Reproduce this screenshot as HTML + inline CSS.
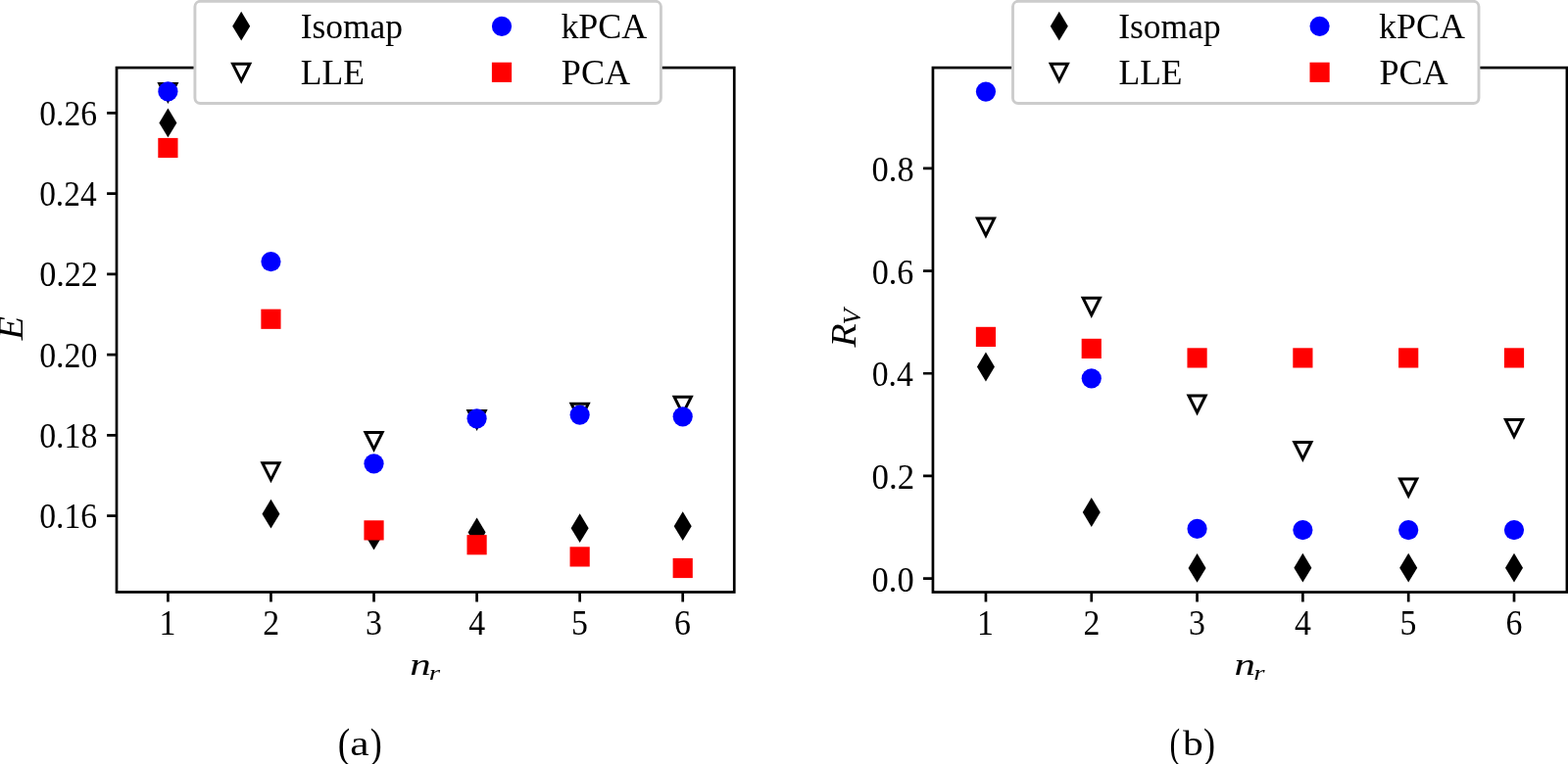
<!DOCTYPE html>
<html lang="en">
<head>
<meta charset="utf-8">
<title>Reconstruction error and volume ratio versus reduced dimension</title>
<style>
html,body{margin:0;padding:0;background:#fff;}
body{width:1600px;height:780px;overflow:hidden;}
svg{display:block;}
text{font-family:"Liberation Serif", serif;fill:#000;}
.ax rect{fill:#fff;stroke:#000;stroke-width:2.7;stroke-linejoin:miter;}
.ax path{fill:none;stroke:#000;stroke-width:2.7;}
.iso path{fill:#000;}
.lle path{fill:none;stroke:#000;stroke-width:3;stroke-linejoin:miter;stroke-miterlimit:10;}
.kpca circle{fill:#0000ff;}
.pca rect{fill:#ff0000;}
.lbox{fill:#fff;stroke:#cccccc;stroke-width:2.9;}
</style>
</head>
<body>
<svg width="1600" height="780" viewBox="0 0 1600 780">
<rect width="1600" height="780" fill="#fff"/>
<g class="ax"><rect x="119" y="69.1" width="630.25" height="535.4"/><path d="M171.4 604.5v9.9M276.46 604.5v9.9M381.52 604.5v9.9M486.58 604.5v9.9M591.64 604.5v9.9M696.7 604.5v9.9M119 115.3h-9.9M119 197.56h-9.9M119 279.82h-9.9M119 362.08h-9.9M119 444.34h-9.9M119 526.6h-9.9"/></g>
<g class="iso"><path d="M171.4 110.5L180.4 125.4L171.4 140.3L162.4 125.4Z"/><path d="M276.46 509.8L285.46 524.7L276.46 539.6L267.46 524.7Z"/><path d="M381.52 531.7L390.52 546.6L381.52 561.5L372.52 546.6Z"/><path d="M486.58 528.6L495.58 543.5L486.58 558.4L477.58 543.5Z"/><path d="M591.64 524.3L600.64 539.2L591.64 554.1L582.64 539.2Z"/><path d="M696.7 522.3L705.7 537.2L696.7 552.1L687.7 537.2Z"/></g>
<g class="lle"><path d="M162.8 85.5L180 85.5L171.4 102.7Z"/><path d="M267.86 472.8L285.06 472.8L276.46 490Z"/><path d="M372.92 441.5L390.12 441.5L381.52 458.7Z"/><path d="M477.98 419.5L495.18 419.5L486.58 436.7Z"/><path d="M583.04 412.3L600.24 412.3L591.64 429.5Z"/><path d="M688.1 405.3L705.3 405.3L696.7 422.5Z"/></g>
<g class="kpca"><circle cx="171.4" cy="93.4" r="10.1"/><circle cx="276.46" cy="267.05" r="10.1"/><circle cx="381.52" cy="473.3" r="10.1"/><circle cx="486.58" cy="427.3" r="10.1"/><circle cx="591.64" cy="423.55" r="10.1"/><circle cx="696.7" cy="425.3" r="10.1"/></g>
<g class="pca"><rect x="161.3" y="140.9" width="20.2" height="20.2"/><rect x="266.36" y="315.65" width="20.2" height="20.2"/><rect x="371.42" y="531.3" width="20.2" height="20.2"/><rect x="476.48" y="546.15" width="20.2" height="20.2"/><rect x="581.54" y="558.3" width="20.2" height="20.2"/><rect x="686.6" y="569.9" width="20.2" height="20.2"/></g>
<rect class="lbox" x="198.9" y="1.3" width="475.5" height="104.2" rx="5.5" ry="5.5"/>
<g class="iso"><path d="M246.2 11.8L255.2 26.7L246.2 41.6L237.2 26.7Z"/></g>
<g class="lle"><path d="M237.6 65.3L254.8 65.3L246.2 82.5Z"/></g>
<g class="kpca"><circle cx="512" cy="26.8" r="10.1"/></g>
<g class="pca"><rect x="501.9" y="63.7" width="20.2" height="20.2"/></g>
<text transform="translate(306.66 39) scale(0.9665 1)" font-size="36.7">Isomap</text>
<text transform="translate(306.83 86) scale(0.9685 1)" font-size="36.7">LLE</text>
<text transform="translate(572.38 39) scale(0.9801 1)" font-size="36.7">kPCA</text>
<text transform="translate(572.82 86) scale(0.9844 1)" font-size="36.7">PCA</text>
<text transform="translate(40.15 128) scale(0.9571 1)" font-size="35.2">0.26</text>
<text transform="translate(40.16 210) scale(0.9486 1)" font-size="35.2">0.24</text>
<text transform="translate(40.13 292) scale(0.9716 1)" font-size="35.2">0.22</text>
<text transform="translate(40.14 375) scale(0.9628 1)" font-size="35.2">0.20</text>
<text transform="translate(40.14 457) scale(0.9628 1)" font-size="35.2">0.18</text>
<text transform="translate(40.15 539) scale(0.9571 1)" font-size="35.2">0.16</text>
<text transform="translate(162.55 648) scale(0.9600 1)" font-size="35.2">1</text>
<text transform="translate(268.28 648) scale(0.9600 1)" font-size="35.2">2</text>
<text transform="translate(373 648) scale(0.9600 1)" font-size="35.2">3</text>
<text transform="translate(478.15 648) scale(0.9600 1)" font-size="35.2">4</text>
<text transform="translate(582.95 648) scale(0.9600 1)" font-size="35.2">5</text>
<text transform="translate(688.1 648) scale(0.9600 1)" font-size="35.2">6</text>
<g class="ax"><rect x="951.95" y="69.1" width="646.95" height="535.45"/><path d="M1005.95 604.55v9.9M1113.76 604.55v9.9M1221.57 604.55v9.9M1329.38 604.55v9.9M1437.19 604.55v9.9M1545 604.55v9.9M951.95 171.9h-9.9M951.95 276.57h-9.9M951.95 381.25h-9.9M951.95 485.92h-9.9M951.95 590.6h-9.9"/></g>
<g class="iso"><path d="M1005.95 359.6L1014.95 374.5L1005.95 389.4L996.95 374.5Z"/><path d="M1113.76 508.1L1122.76 523L1113.76 537.9L1104.76 523Z"/><path d="M1221.57 565L1230.57 579.9L1221.57 594.8L1212.57 579.9Z"/><path d="M1329.38 564.8L1338.38 579.7L1329.38 594.6L1320.38 579.7Z"/><path d="M1437.19 564.8L1446.19 579.7L1437.19 594.6L1428.19 579.7Z"/><path d="M1545 564.8L1554 579.7L1545 594.6L1536 579.7Z"/></g>
<g class="lle"><path d="M997.35 223.1L1014.55 223.1L1005.95 240.3Z"/><path d="M1105.16 304.35L1122.36 304.35L1113.76 321.55Z"/><path d="M1212.97 404L1230.17 404L1221.57 421.2Z"/><path d="M1320.78 451.5L1337.98 451.5L1329.38 468.7Z"/><path d="M1428.59 489L1445.79 489L1437.19 506.2Z"/><path d="M1536.4 428.5L1553.6 428.5L1545 445.7Z"/></g>
<g class="kpca"><circle cx="1005.95" cy="93.55" r="10.1"/><circle cx="1113.76" cy="386.3" r="10.1"/><circle cx="1221.57" cy="539.8" r="10.1"/><circle cx="1329.38" cy="541.05" r="10.1"/><circle cx="1437.19" cy="541.05" r="10.1"/><circle cx="1545" cy="541.05" r="10.1"/></g>
<g class="pca"><rect x="995.85" y="333.8" width="20.2" height="20.2"/><rect x="1103.66" y="345.8" width="20.2" height="20.2"/><rect x="1211.47" y="355.3" width="20.2" height="20.2"/><rect x="1319.28" y="355.3" width="20.2" height="20.2"/><rect x="1427.09" y="355.3" width="20.2" height="20.2"/><rect x="1534.9" y="355.3" width="20.2" height="20.2"/></g>
<rect class="lbox" x="1033.5" y="1.3" width="475.5" height="104.2" rx="5.5" ry="5.5"/>
<g class="iso"><path d="M1080.8 11.8L1089.8 26.7L1080.8 41.6L1071.8 26.7Z"/></g>
<g class="lle"><path d="M1072.2 65.3L1089.4 65.3L1080.8 82.5Z"/></g>
<g class="kpca"><circle cx="1346.6" cy="26.8" r="10.1"/></g>
<g class="pca"><rect x="1336.5" y="63.7" width="20.2" height="20.2"/></g>
<text transform="translate(1141.26 39) scale(0.9665 1)" font-size="36.7">Isomap</text>
<text transform="translate(1141.43 86) scale(0.9685 1)" font-size="36.7">LLE</text>
<text transform="translate(1406.98 39) scale(0.9801 1)" font-size="36.7">kPCA</text>
<text transform="translate(1407.42 86) scale(0.9844 1)" font-size="36.7">PCA</text>
<text transform="translate(889.62 185) scale(0.9785 1)" font-size="35.2">0.8</text>
<text transform="translate(889.63 290) scale(0.9702 1)" font-size="35.2">0.6</text>
<text transform="translate(889.65 394) scale(0.9581 1)" font-size="35.2">0.4</text>
<text transform="translate(889.6 499) scale(0.9912 1)" font-size="35.2">0.2</text>
<text transform="translate(889.62 604) scale(0.9785 1)" font-size="35.2">0.0</text>
<text transform="translate(997.1 648) scale(0.9600 1)" font-size="35.2">1</text>
<text transform="translate(1105.58 648) scale(0.9600 1)" font-size="35.2">2</text>
<text transform="translate(1213.05 648) scale(0.9600 1)" font-size="35.2">3</text>
<text transform="translate(1320.95 648) scale(0.9600 1)" font-size="35.2">4</text>
<text transform="translate(1428.5 648) scale(0.9600 1)" font-size="35.2">5</text>
<text transform="translate(1536.4 648) scale(0.9600 1)" font-size="35.2">6</text>
<text font-style="italic"><tspan x="418.2" y="689" font-size="32.3" textLength="21.41" lengthAdjust="spacingAndGlyphs">n</tspan><tspan x="437.83" y="694" font-size="21.7" textLength="11.34" lengthAdjust="spacingAndGlyphs">r</tspan></text>
<text font-style="italic"><tspan x="1259.6" y="689" font-size="32.3" textLength="21.41" lengthAdjust="spacingAndGlyphs">n</tspan><tspan x="1279.23" y="694" font-size="21.7" textLength="11.34" lengthAdjust="spacingAndGlyphs">r</tspan></text>
<text transform="translate(23 347.3) rotate(-90) scale(1.1004 1)" font-size="36.2" font-style="italic">E</text>
<text transform="translate(873.4 354.8) rotate(-90)" font-style="italic"><tspan x="0.2" y="0" font-size="36.2" textLength="24.23" lengthAdjust="spacingAndGlyphs">R</tspan><tspan x="23.34" y="4.4" font-size="25.2" textLength="16.16" lengthAdjust="spacingAndGlyphs">V</tspan></text>
<text><tspan x="344.66" y="773" font-size="42.6" textLength="12.47" lengthAdjust="spacingAndGlyphs">(</tspan><tspan x="357.38" y="771" font-size="36.3" textLength="19.33" lengthAdjust="spacingAndGlyphs">a</tspan><tspan x="377.67" y="773" font-size="42.6" textLength="11.98" lengthAdjust="spacingAndGlyphs">)</tspan></text>
<text><tspan x="1193.41" y="773" font-size="42.6" textLength="10.64" lengthAdjust="spacingAndGlyphs">(</tspan><tspan x="1207" y="771" font-size="36.3" textLength="20.76" lengthAdjust="spacingAndGlyphs">b</tspan><tspan x="1227.92" y="773" font-size="42.6" textLength="12.04" lengthAdjust="spacingAndGlyphs">)</tspan></text>
</svg>
</body>
</html>
